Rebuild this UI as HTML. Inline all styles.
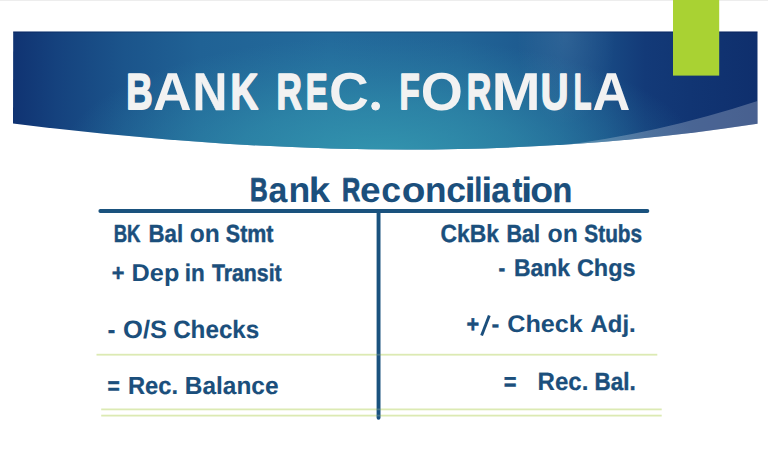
<!DOCTYPE html>
<html>
<head>
<meta charset="utf-8">
<title>Bank Rec. Formula</title>
<style>
html,body{margin:0;padding:0;background:#ffffff;}
body{width:768px;height:454px;overflow:hidden;position:relative;font-family:"Liberation Sans",sans-serif;}
svg{position:absolute;left:0;top:0;display:block;}
text{font-family:"Liberation Sans",sans-serif;font-weight:bold;text-rendering:geometricPrecision;}
.title text,.title circle{fill:#f2f2f2;stroke:#f2f2f2;stroke-linejoin:round;}
.body text{fill:#1b4f7c;stroke:#1b4f7c;stroke-linejoin:round;}
</style>
</head>
<body>
<svg width="768" height="454" viewBox="0 0 768 454">
  <defs>
    <linearGradient id="bgx" gradientUnits="userSpaceOnUse" x1="13" y1="0" x2="757.5" y2="0">
      <stop offset="0.0000" stop-color="rgb(16,51,114)"/>
      <stop offset="0.0600" stop-color="rgb(21,66,126)"/>
      <stop offset="0.1491" stop-color="rgb(27,84,139)"/>
      <stop offset="0.2512" stop-color="rgb(32,98,149)"/>
      <stop offset="0.4258" stop-color="rgb(35,106,155)"/>
      <stop offset="0.6004" stop-color="rgb(33,100,150)"/>
      <stop offset="0.7347" stop-color="rgb(28,86,141)"/>
      <stop offset="0.7952" stop-color="rgb(24,74,132)"/>
      <stop offset="0.8489" stop-color="rgb(19,58,120)"/>
      <stop offset="0.9093" stop-color="rgb(17,53,115)"/>
      <stop offset="1.0000" stop-color="rgb(15,47,109)"/>
    </linearGradient>
    <radialGradient id="glow" gradientUnits="userSpaceOnUse" cx="380" cy="158" r="320" gradientTransform="translate(380 158) scale(1 0.38) translate(-380 -158)">
      <stop offset="0" stop-color="rgb(52,152,176)" stop-opacity="0.95"/>
      <stop offset="0.45" stop-color="rgb(50,148,174)" stop-opacity="0.6"/>
      <stop offset="1" stop-color="rgb(48,140,172)" stop-opacity="0"/>
    </radialGradient>
    <radialGradient id="hl" gradientUnits="userSpaceOnUse" cx="566" cy="36" r="90" gradientTransform="translate(566 36) scale(0.55 1) translate(-566 -36)">
      <stop offset="0" stop-color="#ffffff" stop-opacity="0.08"/>
      <stop offset="1" stop-color="#ffffff" stop-opacity="0"/>
    </radialGradient>
    <clipPath id="bannerClip">
      <path d="M13.2 31.4 H757.5 V123.78 C509.3 161.99 261.2 154.11 13.0 123.46 Z"/>
    </clipPath>
  </defs>

  <!-- top hairline -->
  <rect x="0" y="0" width="768" height="1" fill="#ededed"/>

  <!-- banner -->
  <path d="M13.2 31.4 H757.5 V123.78 C509.3 161.99 261.2 154.11 13.0 123.46 Z" fill="url(#bgx)"/>
  <g clip-path="url(#bannerClip)">
    <rect x="13" y="31" width="745" height="125" fill="url(#glow)"/>
    <rect x="13" y="31" width="745" height="125" fill="url(#hl)"/>
    <rect x="13" y="31.4" width="745" height="1.3" fill="#000a3c" fill-opacity="0.25"/>
  </g>
  <g clip-path="url(#bannerClip)">
    <path d="M757.5 100.90 Q656.2 134.11 555.0 146.09 V155 H757.5 Z" fill="#ffffff" fill-opacity="0.24"/>
  </g>

  <!-- green tab -->
  <rect x="673" y="0" width="46.2" height="75.6" fill="#a9d233"/>

  <!-- title: BANK REC. FORMULA -->
  <g class="title">
    <text x="126.35" y="109.00" font-size="50.73" textLength="26.39" lengthAdjust="spacingAndGlyphs" stroke-width="1.80">B</text>
    <text x="152.93" y="110.00" font-size="53.49" textLength="38.54" lengthAdjust="spacingAndGlyphs" stroke-width="0">A</text>
    <text x="192.73" y="110.00" font-size="53.13" textLength="34.47" lengthAdjust="spacingAndGlyphs" stroke-width="0.49">N</text>
    <text x="230.51" y="109.00" font-size="50.73" textLength="27.64" lengthAdjust="spacingAndGlyphs" stroke-width="1.80">K</text>
    <text x="276.40" y="109.00" font-size="50.73" textLength="25.34" lengthAdjust="spacingAndGlyphs" stroke-width="1.80">R</text>
    <text x="305.76" y="109.00" font-size="50.73" textLength="21.90" lengthAdjust="spacingAndGlyphs" stroke-width="1.80">E</text>
    <text x="329.14" y="110.00" font-size="53.49" textLength="39.84" lengthAdjust="spacingAndGlyphs" stroke-width="0">C</text>
    <circle cx="375.65" cy="106.1" r="3.95"/>
    <text x="399.40" y="109.00" font-size="50.73" textLength="20.19" lengthAdjust="spacingAndGlyphs" stroke-width="1.80">F</text>
    <text x="420.74" y="110.00" font-size="53.49" textLength="42.08" lengthAdjust="spacingAndGlyphs" stroke-width="0">O</text>
    <text x="466.84" y="109.00" font-size="50.73" textLength="24.47" lengthAdjust="spacingAndGlyphs" stroke-width="1.80">R</text>
    <text x="491.55" y="110.00" font-size="53.49" textLength="49.26" lengthAdjust="spacingAndGlyphs" stroke-width="0">M</text>
    <text x="540.65" y="109.00" font-size="50.73" textLength="27.65" lengthAdjust="spacingAndGlyphs" stroke-width="1.80">U</text>
    <text x="573.84" y="109.00" font-size="50.73" textLength="17.69" lengthAdjust="spacingAndGlyphs" stroke-width="1.80">L</text>
    <text x="592.61" y="110.00" font-size="53.49" textLength="37.85" lengthAdjust="spacingAndGlyphs" stroke-width="0">A</text>
  </g>

  <!-- green rules -->
  <rect x="96.5" y="353.8" width="560.8" height="1.8" fill="#dceab3"/>
  <rect x="101.2" y="408.5" width="560.5" height="1.8" fill="#dceab3"/>
  <rect x="101.2" y="414.7" width="560.5" height="1.8" fill="#dceab3"/>

  <!-- T-account lines -->
  <rect x="98.4" y="209.1" width="550.9" height="3.9" rx="1.95" fill="#1a527e"/>
  <rect x="376.6" y="210" width="3.9" height="209.8" rx="1.95" fill="#1a527e"/>
  <!-- faint tint where rules cross the stem -->
  <rect x="376.6" y="353.8" width="3.9" height="1.8" fill="#dceab3" fill-opacity="0.22"/>
  <rect x="376.6" y="408.5" width="3.9" height="1.8" fill="#dceab3" fill-opacity="0.22"/>
  <rect x="376.6" y="414.7" width="3.9" height="1.8" fill="#dceab3" fill-opacity="0.22"/>

  <g class="body">
    <!-- Bank Reconciliation -->
    <text x="250.08" y="201.00" font-size="33.21" textLength="17.68" lengthAdjust="spacingAndGlyphs" stroke-width="0.90">B</text>
    <text x="268.56" y="202.00" font-size="35.22" textLength="18.79" lengthAdjust="spacingAndGlyphs" stroke-width="0.13">a</text>
    <text x="288.57" y="202.00" font-size="35.32" textLength="21.76" lengthAdjust="spacingAndGlyphs" stroke-width="0">n</text>
    <text x="308.82" y="202.00" font-size="35.32" textLength="21.42" lengthAdjust="spacingAndGlyphs" stroke-width="0">k</text>
    <text x="342.03" y="201.00" font-size="33.21" textLength="18.29" lengthAdjust="spacingAndGlyphs" stroke-width="0.90">R</text>
    <text x="360.10" y="202.00" font-size="35.32" textLength="20.60" lengthAdjust="spacingAndGlyphs" stroke-width="0">e</text>
    <text x="381.33" y="202.00" font-size="35.32" textLength="19.79" lengthAdjust="spacingAndGlyphs" stroke-width="0">c</text>
    <text x="401.88" y="202.00" font-size="35.32" textLength="23.66" lengthAdjust="spacingAndGlyphs" stroke-width="0">o</text>
    <text x="424.89" y="202.00" font-size="35.32" textLength="21.56" lengthAdjust="spacingAndGlyphs" stroke-width="0">n</text>
    <text x="446.18" y="202.00" font-size="35.32" textLength="19.83" lengthAdjust="spacingAndGlyphs" stroke-width="0">c</text>
    <text x="464.45" y="202.00" font-size="35.32" textLength="11.26" lengthAdjust="spacingAndGlyphs" stroke-width="0">i</text>
    <text x="474.68" y="201.00" font-size="33.21" textLength="7.07" lengthAdjust="spacingAndGlyphs" stroke-width="0.90">l</text>
    <text x="481.18" y="202.00" font-size="35.32" textLength="11.09" lengthAdjust="spacingAndGlyphs" stroke-width="0">i</text>
    <text x="491.31" y="202.00" font-size="35.16" textLength="18.73" lengthAdjust="spacingAndGlyphs" stroke-width="0.22">a</text>
    <text x="512.74" y="201.00" font-size="33.21" textLength="9.30" lengthAdjust="spacingAndGlyphs" stroke-width="0.90">t</text>
    <text x="520.97" y="202.00" font-size="35.32" textLength="11.31" lengthAdjust="spacingAndGlyphs" stroke-width="0">i</text>
    <text x="530.23" y="202.00" font-size="35.32" textLength="22.91" lengthAdjust="spacingAndGlyphs" stroke-width="0">o</text>
    <text x="552.42" y="202.00" font-size="35.08" textLength="19.82" lengthAdjust="spacingAndGlyphs" stroke-width="0.32">n</text>
    <!-- BK Bal on Stmt -->
    <text x="113.69" y="242.00" font-size="24.64" textLength="26.86" lengthAdjust="spacingAndGlyphs" stroke-width="0.50">BK</text>
    <text x="148.54" y="242.00" font-size="24.71" textLength="34.57" lengthAdjust="spacingAndGlyphs" stroke-width="0.39">Bal</text>
    <text x="189.80" y="242.00" font-size="24.93" textLength="30.07" lengthAdjust="spacingAndGlyphs" stroke-width="0.10">on</text>
    <text x="225.86" y="242.00" font-size="24.64" textLength="47.63" lengthAdjust="spacingAndGlyphs" stroke-width="0.50">Stmt</text>
    <!-- + Dep in Transit -->
    <text x="111.68" y="281.00" font-size="23.97" textLength="12.72" lengthAdjust="spacingAndGlyphs" stroke-width="0.42">+</text>
    <text x="131.62" y="281.00" font-size="24.26" textLength="47.70" lengthAdjust="spacingAndGlyphs" stroke-width="0">Dep</text>
    <text x="184.68" y="281.00" font-size="24.04" textLength="20.00" lengthAdjust="spacingAndGlyphs" stroke-width="0.32">in</text>
    <text x="211.90" y="281.00" font-size="23.91" textLength="69.76" lengthAdjust="spacingAndGlyphs" stroke-width="0.50">Transit</text>
    <!-- - O/S Checks -->
    <text x="107.83" y="338.00" font-size="24.87" textLength="7.49" lengthAdjust="spacingAndGlyphs" stroke-width="0.37">-</text>
    <text x="123.13" y="338.00" font-size="25.15" textLength="44.00" lengthAdjust="spacingAndGlyphs" stroke-width="0">O/S</text>
    <text x="173.14" y="338.00" font-size="25.03" textLength="86.17" lengthAdjust="spacingAndGlyphs" stroke-width="0.16">Checks</text>
    <!-- = Rec. Balance -->
    <text x="107.39" y="394.00" font-size="24.35" textLength="12.26" lengthAdjust="spacingAndGlyphs" stroke-width="0.50">=</text>
    <text x="127.96" y="394.00" font-size="24.55" textLength="50.08" lengthAdjust="spacingAndGlyphs" stroke-width="0.22">Rec.</text>
    <text x="184.87" y="394.00" font-size="24.63" textLength="93.65" lengthAdjust="spacingAndGlyphs" stroke-width="0.11">Balance</text>
    <!-- CkBk Bal on Stubs -->
    <text x="440.41" y="242.00" font-size="24.76" textLength="58.49" lengthAdjust="spacingAndGlyphs" stroke-width="0.33">CkBk</text>
    <text x="506.45" y="242.00" font-size="24.64" textLength="33.57" lengthAdjust="spacingAndGlyphs" stroke-width="0.50">Bal</text>
    <text x="547.44" y="242.00" font-size="24.98" textLength="30.41" lengthAdjust="spacingAndGlyphs" stroke-width="0">on</text>
    <text x="584.34" y="242.00" font-size="24.64" textLength="57.78" lengthAdjust="spacingAndGlyphs" stroke-width="0.50">Stubs</text>
    <!-- - Bank Chgs -->
    <text x="498.48" y="276.00" font-size="23.91" textLength="6.72" lengthAdjust="spacingAndGlyphs" stroke-width="0.50">-</text>
    <text x="513.92" y="276.00" font-size="24.04" textLength="56.17" lengthAdjust="spacingAndGlyphs" stroke-width="0.32">Bank</text>
    <text x="576.89" y="276.00" font-size="24.10" textLength="58.76" lengthAdjust="spacingAndGlyphs" stroke-width="0.24">Chgs</text>
    <!-- +/- Check Adj. -->
    <text x="466.38" y="332.00" font-size="23.62" textLength="12.65" lengthAdjust="spacingAndGlyphs" stroke-width="0.50">+</text>
    <path d="M481.6 335.6 L489.3 315.5" stroke="#1b4f7c" stroke-width="2.9" fill="none"/>
    <text x="491.58" y="332.00" font-size="23.79" textLength="7.77" lengthAdjust="spacingAndGlyphs" stroke-width="0.26">-</text>
    <text x="507.18" y="332.00" font-size="23.98" textLength="75.72" lengthAdjust="spacingAndGlyphs" stroke-width="0">Check</text>
    <text x="590.58" y="332.00" font-size="23.83" textLength="45.09" lengthAdjust="spacingAndGlyphs" stroke-width="0.22">Adj.</text>
    <!-- = Rec. Bal. -->
    <text x="503.85" y="390.00" font-size="24.86" textLength="12.80" lengthAdjust="spacingAndGlyphs" stroke-width="0.39">=</text>
    <text x="537.53" y="390.00" font-size="25.00" textLength="50.82" lengthAdjust="spacingAndGlyphs" stroke-width="0.20">Rec.</text>
    <text x="594.62" y="390.00" font-size="24.84" textLength="41.07" lengthAdjust="spacingAndGlyphs" stroke-width="0.42">Bal.</text>
  </g>
</svg>
</body>
</html>
